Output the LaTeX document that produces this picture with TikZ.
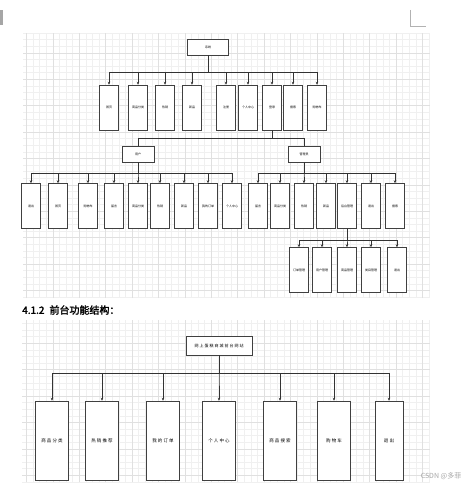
\documentclass[tikz,border=0pt]{standalone}
\usepackage{fontspec}
\newfontfamily\cjk{Noto Sans CJK SC}
\newfontfamily\cjkb[FakeBold=2]{Noto Sans CJK SC}
\newfontfamily\cjkw[LetterSpace=25]{Noto Sans CJK SC}
\usetikzlibrary{arrows.meta}

\begin{document}
\begin{tikzpicture}[x=1pt,y=-1pt,>={Stealth[length=3pt,width=2.6pt]},line width=0.5pt,
    box/.style={draw=black!75,fill=white,inner sep=0pt,minimum width=19pt,minimum height=45pt,font=\cjk\fontsize{3}{3}\selectfont},
    head/.style={box,minimum width=32pt,minimum height=16pt},
    bigbox/.style={box,minimum width=33pt,minimum height=79pt,font=\cjkw\fontsize{4.5}{5}\selectfont},
    link/.style={draw=black!80},
    minorgrid/.style={draw=black!6,line width=0.3pt},
    majorgrid/.style={draw=black!12,line width=0.3pt}]
    \useasboundingbox (0,0) rectangle (474,486);

    % page marks
    \fill[black!35] (0,10) rectangle (3,25);
    \draw[black!30] (410,10) -- (410,26) -- (426,26);

    % grids
    \draw[minorgrid,step=6.6pt] (23,33) grid (430,298);
    \draw[majorgrid,step=26.4pt] (23,33) grid (430,298);
    \draw[minorgrid,step=6.6pt] (22,320) grid (430,482);
    \draw[majorgrid,step=26.4pt] (22,320) grid (430,482);

    % upper chart
    \node[head,minimum width=41pt] (root) at (208,47) {系统};

    \node[box] (t1) at (109,107.5) {首页};
    \node[box] (t2) at (138,107.5) {商品分类};
    \node[box] (t3) at (165,107.5) {热销};
    \node[box] (t4) at (192,107.5) {新品};
    \node[box] (t5) at (226,107.5) {注册};
    \node[box] (t6) at (248,107.5) {个人中心};
    \node[box] (t7) at (272,107.5) {登录};
    \node[box] (t8) at (293,107.5) {搜索};
    \node[box] (t9) at (317,107.5) {购物车};

    \node[head] (user) at (138,154) {用户};
    \node[head] (admin) at (304,154) {管理员};

    \node[box] (u1) at (31,206) {退出};
    \node[box] (u2) at (58,206) {首页};
    \node[box] (u3) at (88,206) {购物车};
    \node[box] (u4) at (114,206) {留言};
    \node[box] (u5) at (138,206) {商品分类};
    \node[box] (u6) at (160,206) {热销};
    \node[box] (u7) at (184,206) {新品};
    \node[box] (u8) at (208,206) {我的订单};
    \node[box] (u9) at (232,206) {个人中心};

    \node[box] (a1) at (258,206) {留言};
    \node[box] (a2) at (280,206) {商品分类};
    \node[box] (a3) at (304,206) {热销};
    \node[box] (a4) at (326,206) {新品};
    \node[box] (a5) at (347,206) {后台管理};
    \node[box] (a6) at (371,206) {退出};
    \node[box] (a7) at (395,206) {搜索};

    \node[box] (m1) at (299,270) {订单管理};
    \node[box] (m2) at (322,270) {用户管理};
    \node[box] (m3) at (347,270) {商品管理};
    \node[box] (m4) at (371,270) {类目管理};
    \node[box] (m5) at (397,270) {退出};

    \draw[link,->] (root.south) -- ++(0,17) -| (t1.north);
    \draw[link,->] (root.south) -- ++(0,17) -| (t2.north);
    \draw[link,->] (root.south) -- ++(0,17) -| (t3.north);
    \draw[link,->] (root.south) -- ++(0,17) -| (t4.north);
    \draw[link,->] (root.south) -- ++(0,17) -| (t5.north);
    \draw[link,->] (root.south) -- ++(0,17) -| (t6.north);
    \draw[link,->] (root.south) -- ++(0,17) -| (t7.north);
    \draw[link,->] (root.south) -- ++(0,17) -| (t8.north);
    \draw[link,->] (root.south) -- ++(0,17) -| (t9.north);

    \draw[link] (t7.south) -- ++(0,8) -| (user.north);
    \draw[link] (t7.south) -- ++(0,8) -| (admin.north);

    \draw[link,->] (user.south) -- ++(0,11) -| (u1.north);
    \draw[link,->] (user.south) -- ++(0,11) -| (u2.north);
    \draw[link,->] (user.south) -- ++(0,11) -| (u3.north);
    \draw[link,->] (user.south) -- ++(0,11) -| (u4.north);
    \draw[link,->] (user.south) -- ++(0,11) -| (u5.north);
    \draw[link,->] (user.south) -- ++(0,11) -| (u6.north);
    \draw[link,->] (user.south) -- ++(0,11) -| (u7.north);
    \draw[link,->] (user.south) -- ++(0,11) -| (u8.north);
    \draw[link,->] (user.south) -- ++(0,11) -| (u9.north);

    \draw[link,->] (admin.south) -- ++(0,11) -| (a1.north);
    \draw[link,->] (admin.south) -- ++(0,11) -| (a2.north);
    \draw[link,->] (admin.south) -- ++(0,11) -| (a3.north);
    \draw[link,->] (admin.south) -- ++(0,11) -| (a4.north);
    \draw[link,->] (admin.south) -- ++(0,11) -| (a5.north);
    \draw[link,->] (admin.south) -- ++(0,11) -| (a6.north);
    \draw[link,->] (admin.south) -- ++(0,11) -| (a7.north);

    \draw[link,->] (a5.south) -- ++(0,11) -| (m1.north);
    \draw[link,->] (a5.south) -- ++(0,11) -| (m2.north);
    \draw[link,->] (a5.south) -- ++(0,11) -| (m3.north);
    \draw[link,->] (a5.south) -- ++(0,11) -| (m4.north);
    \draw[link,->] (a5.south) -- ++(0,11) -| (m5.north);

    % heading
    \node[anchor=west,inner sep=0pt,font=\cjkb\fontsize{10}{11}\selectfont] (title) at (22,310) {4.1.2\enspace 前台功能结构：};

    % lower chart
    \node[box,minimum width=66pt,minimum height=19pt,font=\cjkw\fontsize{4}{4}\selectfont] (front) at (219,345.5) {网上蛋糕商城前台网站};

    \node[bigbox] (b1) at (52,440.5) {商品分类};
    \node[bigbox] (b2) at (102,440.5) {热销推荐};
    \node[bigbox] (b3) at (163,440.5) {我的订单};
    \node[bigbox] (b4) at (219,440.5) {个人中心};
    \node[bigbox] (b5) at (280,440.5) {商品搜索};
    \node[bigbox] (b6) at (334,440.5) {购物车};
    \node[bigbox,minimum width=28pt] (b7) at (389,440.5) {退出};

    \draw[link,->] (front.south) -- ++(0,18) -| (b1.north);
    \draw[link,->] (front.south) -- ++(0,18) -| (b2.north);
    \draw[link,->] (front.south) -- ++(0,18) -| (b3.north);
    \draw[link,->] (front.south) -- ++(0,18) -| (b4.north);
    \draw[link,->] (front.south) -- ++(0,18) -| (b5.north);
    \draw[link,->] (front.south) -- ++(0,18) -| (b6.north);
    \draw[link,->] (front.south) -- ++(0,18) -| (b7.north);

    \node[text=black!35,font=\cjk\fontsize{7}{8}\selectfont] (mark) at (441,476) {CSDN @多菲};
\end{tikzpicture}
\end{document}
